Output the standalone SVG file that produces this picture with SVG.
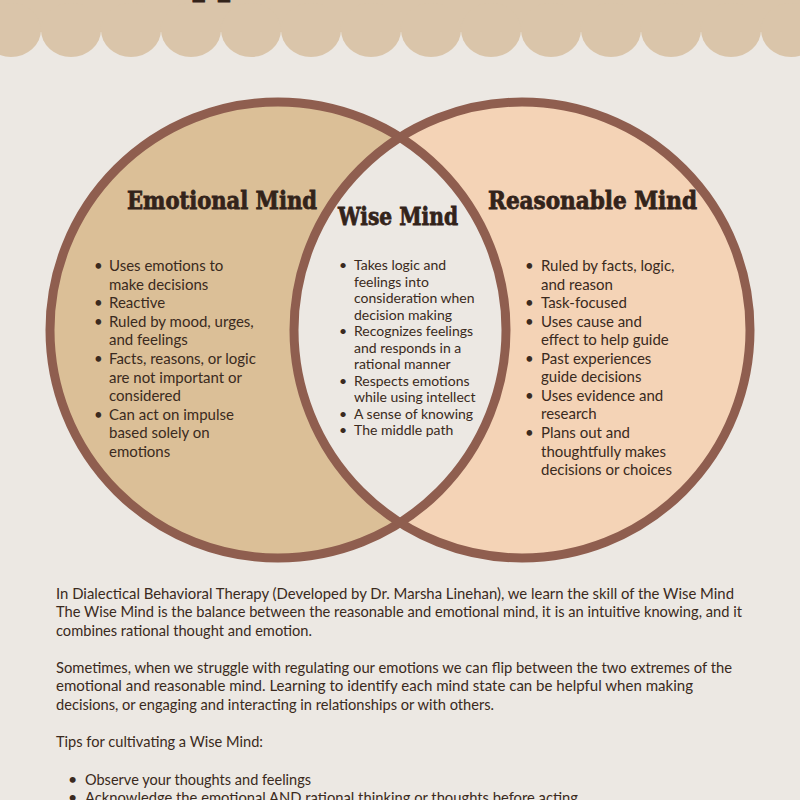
<svg xmlns="http://www.w3.org/2000/svg" width="800" height="800" viewBox="0 0 800 800">
<defs>
<style>
.head{font-family:"DejaVu Serif","Liberation Serif",serif;font-weight:bold;fill:#33231a;stroke:#33231a;stroke-width:0.8px;}
.li{font-family:Lato,"Noto Sans",sans-serif;font-size:15px;fill:#3a2a20;}
.lc{font-family:Lato,"Noto Sans",sans-serif;font-size:14px;fill:#3a2a20;}
.para{font-family:Lato,"Noto Sans",sans-serif;font-size:16px;fill:#3a2a20;}
.ring{fill:none;stroke:#8f5e4f;stroke-width:9;}
</style>
</defs>
<rect width="800" height="800" fill="#ece8e3"/>
<g id="header">
<rect x="0" y="0" width="800" height="32" fill="#dac5aa"/>
<g fill="#dac5aa">
<ellipse cx="11" cy="30" rx="30" ry="27"/>
<ellipse cx="71" cy="30" rx="30" ry="27"/>
<ellipse cx="131" cy="30" rx="30" ry="27"/>
<ellipse cx="191" cy="30" rx="30" ry="27"/>
<ellipse cx="251" cy="30" rx="30" ry="27"/>
<ellipse cx="311" cy="30" rx="30" ry="27"/>
<ellipse cx="371" cy="30" rx="30" ry="27"/>
<ellipse cx="431" cy="30" rx="30" ry="27"/>
<ellipse cx="491" cy="30" rx="30" ry="27"/>
<ellipse cx="551" cy="30" rx="30" ry="27"/>
<ellipse cx="611" cy="30" rx="30" ry="27"/>
<ellipse cx="671" cy="30" rx="30" ry="27"/>
<ellipse cx="731" cy="30" rx="30" ry="27"/>
<ellipse cx="791" cy="30" rx="30" ry="27"/>
</g>
<text x="192" y="-5" class="head" font-size="36">pp</text>
</g>
<g id="venn">
<circle cx="278" cy="330" r="228" fill="#dbbf97"/>
<circle cx="522" cy="330" r="228" fill="#f4d3b6"/>
<path d="M400,137.4 A228,228 0 0 0 400,522.6 A228,228 0 0 0 400,137.4 Z" fill="#ece8e3"/>
<circle class="ring" cx="278" cy="330" r="228"/>
<circle class="ring" cx="522" cy="330" r="228"/>
</g>
<g id="emotional-mind">
<text x="222" y="209" class="head" font-size="24" text-anchor="middle" textLength="190" lengthAdjust="spacingAndGlyphs">Emotional Mind</text>
<text class="li">
<tspan x="94" y="271">•</tspan><tspan x="109" y="271">Uses emotions to</tspan>
<tspan x="109" y="289.6">make decisions</tspan>
<tspan x="94" y="308.2">•</tspan><tspan x="109" y="308.2">Reactive</tspan>
<tspan x="94" y="326.8">•</tspan><tspan x="109" y="326.8">Ruled by mood, urges,</tspan>
<tspan x="109" y="345.4">and feelings</tspan>
<tspan x="94" y="364">•</tspan><tspan x="109" y="364">Facts, reasons, or logic</tspan>
<tspan x="109" y="382.6">are not important or</tspan>
<tspan x="109" y="401.2">considered</tspan>
<tspan x="94" y="419.8">•</tspan><tspan x="109" y="419.8">Can act on impulse</tspan>
<tspan x="109" y="438.4">based solely on</tspan>
<tspan x="109" y="457">emotions</tspan>
</text>
</g>
<g id="wise-mind">
<text x="398" y="225" class="head" font-size="24" text-anchor="middle" textLength="120" lengthAdjust="spacingAndGlyphs">Wise Mind</text>
<text class="lc">
<tspan x="339" y="270">•</tspan><tspan x="354" y="270">Takes logic and</tspan>
<tspan x="354" y="286.5">feelings into</tspan>
<tspan x="354" y="303">consideration when</tspan>
<tspan x="354" y="319.5">decision making</tspan>
<tspan x="339" y="336">•</tspan><tspan x="354" y="336">Recognizes feelings</tspan>
<tspan x="354" y="352.5">and responds in a</tspan>
<tspan x="354" y="369">rational manner</tspan>
<tspan x="339" y="385.5">•</tspan><tspan x="354" y="385.5">Respects emotions</tspan>
<tspan x="354" y="402">while using intellect</tspan>
<tspan x="339" y="418.5">•</tspan><tspan x="354" y="418.5">A sense of knowing</tspan>
<tspan x="339" y="435">•</tspan><tspan x="354" y="435">The middle path</tspan>
</text>
</g>
<g id="reasonable-mind">
<text x="592.5" y="209" class="head" font-size="24" text-anchor="middle" textLength="209" lengthAdjust="spacingAndGlyphs">Reasonable Mind</text>
<text class="li">
<tspan x="525" y="271">•</tspan><tspan x="541" y="271">Ruled by facts, logic,</tspan>
<tspan x="541" y="289.55">and reason</tspan>
<tspan x="525" y="308.1">•</tspan><tspan x="541" y="308.1">Task-focused</tspan>
<tspan x="525" y="326.65">•</tspan><tspan x="541" y="326.65">Uses cause and</tspan>
<tspan x="541" y="345.2">effect to help guide</tspan>
<tspan x="525" y="363.75">•</tspan><tspan x="541" y="363.75">Past experiences</tspan>
<tspan x="541" y="382.3">guide decisions</tspan>
<tspan x="525" y="400.85">•</tspan><tspan x="541" y="400.85">Uses evidence and</tspan>
<tspan x="541" y="419.4">research</tspan>
<tspan x="525" y="437.95">•</tspan><tspan x="541" y="437.95">Plans out and</tspan>
<tspan x="541" y="456.5">thoughtfully makes</tspan>
<tspan x="541" y="475.05">decisions or choices</tspan>
</text>
</g>
<g id="connectors"></g>
<g id="description">
<text class="para" x="56" y="598.5" textLength="678" lengthAdjust="spacingAndGlyphs">In Dialectical Behavioral Therapy (Developed by Dr. Marsha Linehan), we learn the skill of the Wise Mind</text>
<text class="para" x="56" y="617" textLength="686" lengthAdjust="spacingAndGlyphs">The Wise Mind is the balance between the reasonable and emotional mind, it is an intuitive knowing, and it</text>
<text class="para" x="56" y="635.5" textLength="256" lengthAdjust="spacingAndGlyphs">combines rational thought and emotion.</text>
<text class="para" x="56" y="672.5" textLength="676" lengthAdjust="spacingAndGlyphs">Sometimes, when we struggle with regulating our emotions we can flip between the two extremes of the</text>
<text class="para" x="56" y="691" textLength="637" lengthAdjust="spacingAndGlyphs">emotional and reasonable mind. Learning to identify each mind state can be helpful when making</text>
<text class="para" x="56" y="709.5" textLength="438" lengthAdjust="spacingAndGlyphs">decisions, or engaging and interacting in relationships or with others.</text>
<text class="para" x="56" y="747" textLength="207" lengthAdjust="spacingAndGlyphs">Tips for cultivating a Wise Mind:</text>
<text class="para" x="68" y="784.5">•</text>
<text class="para" x="85" y="784.5" textLength="226" lengthAdjust="spacingAndGlyphs">Observe your thoughts and feelings</text>
<text class="para" x="68" y="803">•</text>
<text class="para" x="85" y="803" textLength="493" lengthAdjust="spacingAndGlyphs">Acknowledge the emotional AND rational thinking or thoughts before acting</text>
</g>
</svg>
